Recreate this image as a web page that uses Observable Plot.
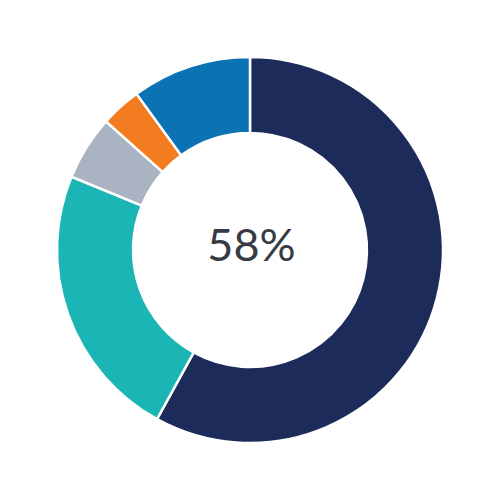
<!DOCTYPE html>
<html>
<head>
<meta charset="utf-8">
<script src="https://cdn.jsdelivr.net/npm/d3@7"></script>
<script src="https://cdn.jsdelivr.net/npm/@observablehq/plot@0.6"></script>
<style>
  html, body { margin: 0; padding: 0; background: #fff; }
</style>
</head>
<body>
<div id="chart"></div>
<script>
const categories = ["A", "B", "C", "D", "E"];
const values = [58, 23.2, 5.4, 3.4, 10];
const colors = ["#1c2b59", "#1bb5b5", "#a9b3c1", "#f47c20", "#0b72b3"];
const centerLabel = "58%";

const data = categories.map((c, i) => ({category: c, value: values[i]}));

const pieGen = d3.pie().sort(null).value(d => d.value);
const arcs = pieGen(data);

function donutMark(index, scales, vals, dims) {
  const cx = scales.x(0), cy = scales.y(0);
  const rOuter = Math.abs(scales.x(1) - scales.x(0));
  const rInner = rOuter * 0.606;
  const arcGen = d3.arc().innerRadius(rInner).outerRadius(rOuter);
  const g = d3.create("svg:g").attr("transform", `translate(${cx},${cy})`);
  g.selectAll("path")
    .data(arcs)
    .join("path")
    .attr("d", arcGen)
    .attr("fill", d => scales.color(d.data.category))
    .attr("stroke", "#fff")
    .attr("stroke-width", 2.5)
    .attr("stroke-linejoin", "miter");
  return g.node();
}

const chart = Plot.plot({
  width: 500,
  height: 500,
  margin: 0,
  x: {domain: [-250 / 193, 250 / 193], axis: null},
  y: {domain: [-250 / 193, 250 / 193], axis: null},
  color: {domain: categories, range: colors},
  marks: [
    donutMark,
    Plot.text([centerLabel], {
      x: () => 0, y: () => 0,
      text: d => d,
      fontSize: 45,
      fontFamily: "Lato",
      fontWeight: 400,
      fill: "#353a45",
      textAnchor: "middle",
      dx: 1,
      dy: -4
    })
  ],
  style: {background: "#fff"}
});

document.getElementById("chart").appendChild(chart);
</script>
</body>
</html>
